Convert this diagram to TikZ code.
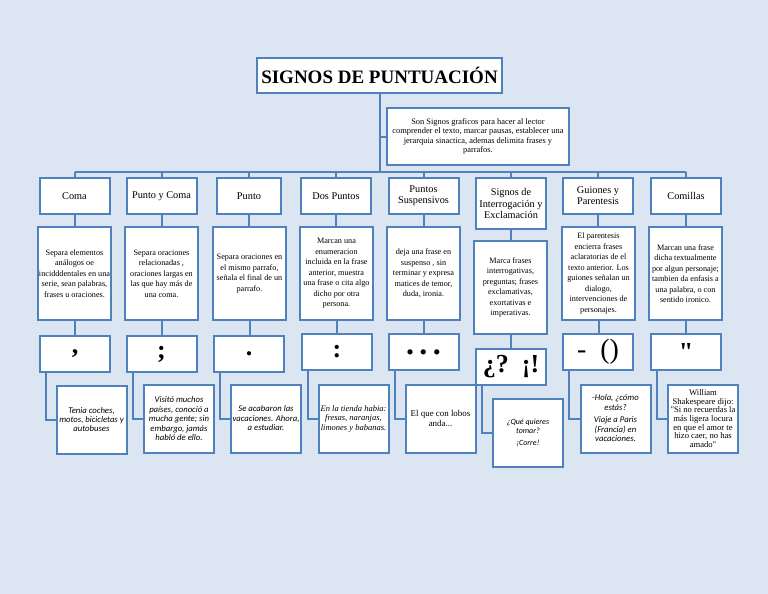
\documentclass[tikz,border=0pt]{standalone}
\usepackage{fontspec}
\setmainfont{Liberation Serif}
\newfontfamily\exfont{Carlito}
\usepackage{tikz}
\usetikzlibrary{positioning}

\definecolor{boxblue}{RGB}{79,129,189}
\definecolor{paper}{RGB}{220,230,242}

\begin{document}
\begin{tikzpicture}[x=1pt, y=-1pt, every node/.style={font=\fontsize{8.2}{10.5}\selectfont}]

% Styles
\tikzstyle{box} = [draw=boxblue, line width=2pt, fill=white, align=center, inner sep=1pt]
\tikzstyle{head} = [box, minimum width=70pt, minimum height=36pt, font=\fontsize{10.3}{11.2}\selectfont]
\tikzstyle{info} = [box, minimum width=73pt, minimum height=93pt]
\tikzstyle{sym} = [box, minimum width=70pt, minimum height=36pt, font=\bfseries\fontsize{26}{26}\selectfont]
\tikzstyle{example} = [box, minimum width=70pt, minimum height=68pt]
\tikzstyle{link} = [draw=boxblue, line width=2pt]

\fill[paper] (0,0) rectangle (768,594);
\useasboundingbox (0,0) rectangle (768,594);

% Nodes
\node[box, minimum width=245pt, minimum height=35pt, font=\bfseries\fontsize{19}{20}\selectfont] (title) at (379.5,75.5) {SIGNOS DE PUNTUACIÓN};
\node[box, minimum width=182pt, minimum height=57pt, font=\fontsize{8.4}{9.2}\selectfont] (intro) at (478,136.5) {Son Signos graficos para hacer al lector\\comprender el texto, marcar pausas, establecer una\\jerarquia sinactica, ademas delimita frases y\\parrafos.};
\coordinate (busL) at (74.5,172);
\coordinate (busR) at (686,172);

\node[head] (coma) at (74.5,196) {Coma};
\node[head] (pcoma) at (161.5,196) {Punto y Coma};
\node[head, minimum width=64pt] (punto) at (249,196) {Punto};
\node[head] (dos) at (336,196) {Dos Puntos};
\node[head] (susp) at (423.5,196) {Puntos\\Suspensivos};
\node[head, minimum height=51pt] (signos) at (511,203.5) {Signos de\\Interrogación y\\Exclamación};
\node[head] (guion) at (598,196) {Guiones y\\Parentesis};
\node[head] (comi) at (686,196) {Comillas};

\node[info] (comaI) at (74.5,273.5) {Separa elementos\\análogos oe\\incidddentales en una\\serie, sean palabras,\\frases u oraciones.};
\node[info] (pcomaI) at (161.5,273.5) {Separa oraciones\\relacionadas ,\\oraciones largas en\\las que hay más de\\una coma.};
\node[info] (puntoI) at (249.5,273.5) {Separa oraciones en\\el mismo parrafo,\\señala el final de un\\parrafo.};
\node[info] (dosI) at (336.5,273.5) {Marcan una\\enumeracion\\incluida en la frase\\anterior, muestra\\una frase o cita algo\\dicho por otra\\persona.};
\node[info] (suspI) at (423.5,273.5) {deja una frase en\\suspenso , sin\\terminar y expresa\\matices de temor,\\duda, ironia.};
\node[info] (signosI) at (510.5,287.5) {Marca frases\\interrogativas,\\preguntas; frases\\exclamativas,\\exortativas e\\imperativas.};
\node[info] (guionI) at (598.5,273.5) {El parentesis\\encierra frases\\aclaratorias de el\\texto anterior. Los\\guiones señalan un\\dialogo,\\intervenciones de\\personajes.};
\node[info] (comiI) at (685.5,273.5) {Marcan una frase\\dicha textualmente\\por algun personaje;\\tambien da enfasis a\\una palabra, o con\\sentido ironico.};

\node[sym] (comaS) at (75,354) {,};
\node[sym] (pcomaS) at (161.5,354) {;};
\node[sym] (puntoS) at (249,354) {.};
\node[sym] (dosS) at (337,352) {:};
\node[sym, font=\bfseries\fontsize{32}{32}\selectfont] (suspS) at (423.5,352) {.\,.\,.};
\node[sym] (signosS) at (511,366.5) {¿?\enspace ¡!};
\node[sym, font=\fontsize{28}{28}\selectfont] (guionS) at (598,352) {-\enspace ()};
\node[sym] (comiS) at (686,352) {\textquotedbl};

\node[example, font=\exfont\itshape\fontsize{8.7}{9.4}\selectfont] (comaE) at (91.5,419.5) {Tenia coches,\\motos, bicicletas y\\autobuses};
\node[example, font=\exfont\itshape\fontsize{8.7}{9.5}\selectfont] (pcomaE) at (179,419) {Visitó muchos\\países, conoció a\\mucha gente; sin\\embargo, jamás\\habló de ello.};
\node[example, font=\exfont\itshape\fontsize{8.7}{9.5}\selectfont] (puntoE) at (266,418.5) {Se acabaron las\\vacaciones. Ahora,\\a estudiar.};
\node[example, font=\itshape\fontsize{8.5}{9.5}\selectfont] (dosE) at (353.5,418.5) {En la tienda habia:\\fresas, naranjas,\\limones y babanas.};
\node[example, font=\fontsize{8.9}{10}\selectfont] (suspE) at (440.5,418.5) {El que con lobos\\anda...};
\node[example, font=\exfont\itshape\fontsize{8}{9}\selectfont] (signosE) at (528,432.5) {¿Qué quieres\\tomar?\\[3pt]¡Corre!};
\node[example, font=\exfont\itshape\fontsize{8.7}{9.5}\selectfont] (guionE) at (615.5,418.5) {-Hola, ¿cómo\\estás?\\[3pt]Viaje a Paris\\(Francia) en\\vacaciones.};
\node[example, font=\fontsize{8.6}{8.7}\selectfont] (comiE) at (703,418.5) {William\\Shakespeare dijo:\\\textquotedbl Si no recuerdas la\\más ligera locura\\en que el amor te\\hizo caer, no has\\amado\textquotedbl};

% Lines
\draw[link] (title) -- (title |- busL);
\draw[link] (title |- intro.west) -- (intro.west);
\draw[link] (busL) -- (busR);

\draw[link] (coma) -- (coma |- busL);
\draw[link] (pcoma) -- (pcoma |- busL);
\draw[link] (punto) -- (punto |- busL);
\draw[link] (dos) -- (dos |- busL);
\draw[link] (susp) -- (susp |- busL);
\draw[link] (signos) -- (signos |- busL);
\draw[link] (guion) -- (guion |- busL);
\draw[link] (comi) -- (comi |- busL);

\draw[link] (coma) -- (comaI);
\draw[link] (pcoma) -- (pcomaI);
\draw[link] (punto) -- (punto |- puntoI.north);
\draw[link] (dos) -- (dos |- dosI.north);
\draw[link] (susp) -- (suspI);
\draw[link] (signos) -- (signos |- signosI.north);
\draw[link] (guion) -- (guion |- guionI.north);
\draw[link] (comi) -- (comi |- comiI.north);

\draw[link] (comaI) -- (comaI |- comaS.north);
\draw[link] (pcomaI) -- (pcomaS);
\draw[link] (puntoI) -- (puntoI |- puntoS.north);
\draw[link] (dosI) -- (dosI |- dosS.north);
\draw[link] (suspI) -- (suspS);
\draw[link] (signosI) -- (signosI |- signosS.north);
\draw[link] (guionI) -- (guionI |- guionS.north);
\draw[link] (comiI) -- (comiI |- comiS.north);

\draw[link] ([xshift=7pt]comaS.south west) |- (comaE.west);
\draw[link] ([xshift=7pt]pcomaS.south west) |- (pcomaE.west);
\draw[link] ([xshift=7pt]puntoS.south west) |- (puntoE.west);
\draw[link] ([xshift=7pt]dosS.south west) |- (dosE.west);
\draw[link] ([xshift=7pt]suspS.south west) |- (suspE.west);
\draw[link] ([xshift=7pt]signosS.south west) |- (signosE.west);
\draw[link] ([xshift=7pt]guionS.south west) |- (guionE.west);
\draw[link] ([xshift=7pt]comiS.south west) |- (comiE.west);

\end{tikzpicture}
\end{document}
